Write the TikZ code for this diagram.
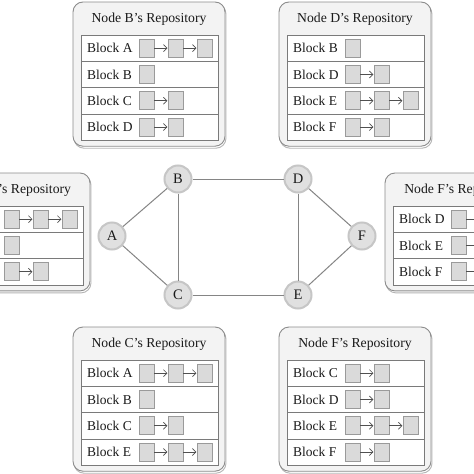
\documentclass[tikz,border=0pt]{standalone}
\usepackage{fontspec}
\setmainfont{Liberation Serif}
\usetikzlibrary{arrows.meta}
\newcommand{\sq}{\char"0027\relax}
\definecolor{boxline}{HTML}{8C8C8C}
\definecolor{boxfill}{HTML}{F3F3F3}
\definecolor{boxshadow}{HTML}{B5B5B5}
\definecolor{tableline}{HTML}{7A7A7A}
\definecolor{sqfill}{HTML}{DADADA}
\definecolor{sqline}{HTML}{9A9A9A}
\definecolor{arrcol}{HTML}{505050}
\definecolor{circfill}{HTML}{E0E0E0}
\definecolor{circline}{HTML}{C6C6C6}
\definecolor{edgecol}{HTML}{858585}
\definecolor{txt}{HTML}{1A1A1A}
\tikzset{
  repoouter/.style={draw=boxline, fill=boxfill, line width=0.9pt, rounded corners=10pt},
  reposhadow/.style={draw=boxshadow, line width=0.9pt, rounded corners=10pt},
  repotitle/.style={inner sep=0pt, text=txt, font=\fontsize{13.7}{16}\selectfont},
  repotable/.style={draw=tableline, line width=0.8pt},
  repotablefill/.style={draw=tableline, fill=white, line width=0.8pt},
  blocklabel/.style={anchor=west, inner sep=0pt, text=txt, font=\fontsize{13.5}{16}\selectfont},
  blocksq/.style={draw=sqline, fill=sqfill, line width=0.7pt},
  blockarr/.style={draw=arrcol, line width=0.7pt, -{Straight Barb[length=3.5pt,width=7pt]}},
  gnode/.style={circle, draw=circline, fill=circfill, line width=2pt, minimum size=27pt, inner sep=0pt, text=txt, font=\fontsize{14.5}{16}\selectfont},
  gedge/.style={draw=edgecol, line width=1pt}
}
\newcommand{\repobox}[5]{%
  \pgfmathsetmacro{\rbh}{33+26.3*#4+6}%
  \draw[reposhadow] (#1+1,#2+2) rectangle ++(152,\rbh);
  \draw[repoouter] (#1,#2) rectangle ++(152,\rbh);
  \node[repotitle] at (#1+76,#2+17) {#3};
  \draw[repotablefill] (#1+8,#2+33) rectangle ++(137,{26.3*#4});
  \foreach \lab/\cnt [count=\i from 0] in {#5} {
    \pgfmathsetmacro{\yc}{#2+33+26.3*(\i+0.5)}
    \ifnum\i>0 \draw[repotable] (#1+8,{#2+33+26.3*\i}) -- ++(137,0); \fi
    \node[blocklabel] at (#1+14,\yc) {\lab};
    \foreach \j in {1,...,\cnt} {
      \pgfmathsetmacro{\xs}{#1+66+29*(\j-1)}
      \draw[blocksq] (\xs,\yc-9) rectangle ++(15,18);
      \ifnum\j>1 \draw[blockarr] (\xs-14,\yc) -- (\xs-0.6,\yc); \fi
    }
  }
}
\begin{document}
\begin{tikzpicture}[x=1pt,y=-1pt]
  \clip (0,0) rectangle (474,474);
  \fill[white] (0,0) rectangle (474,474);
  % repositories
  \repobox{73}{2}{Node B\sq s Repository}{4}{Block A/3, Block B/1, Block C/2, Block D/2}
  \repobox{279}{2}{Node D\sq s Repository}{4}{Block B/1, Block D/2, Block E/3, Block F/2}
  \repobox{-62}{173}{Node A\sq s Repository}{3}{Block A/3, Block B/1, Block C/2}
  \repobox{385}{173}{Node F\sq s Repository}{3}{Block D/2, Block E/2, Block F/2}
  \repobox{73}{327}{Node C\sq s Repository}{4}{Block A/3, Block B/1, Block C/2, Block E/3}
  \repobox{279}{327}{Node F\sq s Repository}{4}{Block C/2, Block D/2, Block E/3, Block F/2}
  % graph
  \node[gnode] (A) at (112,236) {A};
  \node[gnode] (B) at (178,179) {B};
  \node[gnode] (C) at (178,295) {C};
  \node[gnode] (D) at (298,179) {D};
  \node[gnode] (E) at (298,295) {E};
  \node[gnode] (F) at (362,236) {F};
  \draw[gedge] (A) -- (B);
  \draw[gedge] (A) -- (C);
  \draw[gedge] (B) -- (C);
  \draw[gedge] (B) -- (D);
  \draw[gedge] (C) -- (E);
  \draw[gedge] (D) -- (E);
  \draw[gedge] (D) -- (F);
  \draw[gedge] (E) -- (F);
\end{tikzpicture}
\end{document}
